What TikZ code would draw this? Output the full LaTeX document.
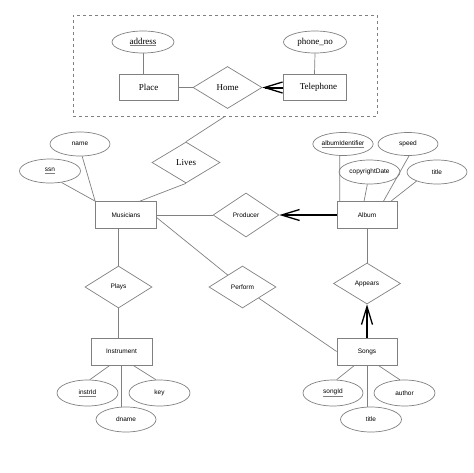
\documentclass[tikz,border=0pt]{standalone}
\usepackage{fontspec}
\setmainfont{Liberation Serif}
\newfontfamily\sansf{Liberation Sans}
\usetikzlibrary{shapes.geometric,arrows.meta}
\definecolor{lc}{RGB}{128,128,128}
\newcommand{\keyul}[1]{{\color{lc}\underline{\color{black}#1}}}
\tikzset{
  base/.style={draw=lc, line width=0.7pt, inner sep=0pt, text=black},
  serif/.style={font=\fontsize{9}{10}\selectfont},
  sans/.style={font=\sansf\fontsize{6.5}{7.5}\selectfont},
  entbox/.style={base, rectangle},
  relbox/.style={base, diamond},
  attr/.style={base, ellipse},
  conn/.style={draw=lc, line width=0.7pt},
  thickarr/.style={draw=black, line width=2pt, -{Straight Barb[length=18pt,width=11pt,line width=1.3pt]}},
  grpbox/.style={draw=lc, line width=0.7pt, dash pattern=on 3pt off 3pt}
}
\begin{document}
\begin{tikzpicture}[x=1pt,y=-1pt]
\useasboundingbox (0,0) rectangle (474,472);
% group box
\node[grpbox, minimum width=304pt, minimum height=101pt, inner sep=0pt] (grp) at (225,65.5) {};
% top part (serif)
\node[attr, serif, minimum width=62pt, minimum height=22pt] (addr) at (143,42) {\keyul{address}};
\node[attr, serif, minimum width=63pt, minimum height=22pt] (ph) at (315,42) {phone\_no};
\node[entbox, serif, minimum width=59pt, minimum height=26pt] (place) at (148.5,87.5) {Place\hspace{12pt}};
\node[relbox, serif, minimum width=69pt, minimum height=42pt] (home) at (227.5,87.5) {Home};
\node[entbox, serif, minimum width=63pt, minimum height=26pt] (tel) at (314.5,87.5) {\hspace{8pt}Telephone};
\node[relbox, serif, minimum width=68pt, minimum height=41pt] (lives) at (186,162.5) {Lives};
% Musicians
\node[entbox, sans, minimum width=61pt, minimum height=27pt] (mus) at (126,215) {Musicians\hspace{14pt}};
\node[attr, sans, minimum width=60pt, minimum height=24pt] (nm) at (80,144) {name};
\node[attr, sans, minimum width=61pt, minimum height=24pt] (ssn) at (50,171) {\keyul{ssn}\hspace{8pt}};
% Album
\node[relbox, sans, minimum width=66pt, minimum height=44pt] (prod) at (246,215) {Producer};
\node[entbox, sans, minimum width=60pt, minimum height=27pt] (alb) at (367,215) {Album\hspace{22pt}};
\node[attr, sans, minimum width=60pt, minimum height=23pt] (aid) at (343,144) {\keyul{albumIdentifier}};
\node[attr, sans, minimum width=60pt, minimum height=23pt] (sp) at (408,144) {speed};
\node[attr, sans, minimum width=61pt, minimum height=24pt] (cd) at (369.5,172) {copyrightDate};
\node[attr, sans, minimum width=60pt, minimum height=24pt] (ti) at (437,172) {title};
% middle
\node[relbox, sans, minimum width=67pt, minimum height=42pt] (plays) at (118.5,287) {Plays};
\node[relbox, sans, minimum width=67pt, minimum height=42pt] (perf) at (242.5,287) {Perform};
\node[relbox, sans, minimum width=67pt, minimum height=41pt] (app) at (367,283.5) {Appears};
% Instrument
\node[entbox, sans, minimum width=61pt, minimum height=27pt] (inst) at (121.5,351.5) {Instrument};
\node[attr, sans, minimum width=61pt, minimum height=26pt] (iid) at (87.5,393) {\keyul{instrId}};
\node[attr, sans, minimum width=61pt, minimum height=26pt] (key) at (159.5,393) {key};
\node[attr, sans, minimum width=60pt, minimum height=25pt] (dn) at (126,419.5) {dname};
% Songs
\node[entbox, sans, minimum width=60pt, minimum height=27pt] (songs) at (367,351.5) {Songs\hspace{12pt}};
\node[attr, sans, minimum width=60pt, minimum height=26pt] (sid) at (333,393) {\keyul{songId}};
\node[attr, sans, minimum width=61pt, minimum height=26pt] (au) at (404.5,393) {author};
\node[attr, sans, minimum width=61pt, minimum height=25pt] (ti2) at (371,419.5) {title};
% connectors
\draw[conn] (addr.south) -- (addr.south |- place.north);
\draw[conn] (ph.south) -- (tel.north);
\draw[conn] (place.east) -- (home.west);
\draw[thickarr] (tel.west) -- (home.east);
\draw[conn] (grp.south) -- (lives.north);
\draw[conn] (lives.south) -- (mus.45);
\draw[conn] (nm.280) -- (mus.north west);
\draw[conn] (ssn.315) -- (mus.north west);
\draw[conn] (mus.east) -- (prod.west);
\draw[thickarr] (alb.west) -- (prod.east);
\draw[conn] (aid.255) -- (alb.153);
\draw[conn] (cd.260) -- (alb.102);
\draw[conn] (sp.275) -- (alb.40);
\draw[conn] (ti.204) -- (alb.30);
\draw[conn] (alb.south) -- (app.north);
\draw[thickarr] (songs.north) -- (app.south);
\draw[conn] (mus.-5) -- (perf);
\draw[conn] (perf) -- (songs.west);
\draw[conn] (plays.north) -- (plays.north |- mus.south);
\draw[conn] (plays.south) -- (plays.south |- inst.north);
\draw[conn] (iid.80) -- (inst.230);
\draw[conn] (inst.south) -- (inst.south |- dn.north);
\draw[conn] (key.105) -- (inst.310);
\draw[conn] (sid.75) -- (songs.228);
\draw[conn] (songs.south) -- (songs.south |- ti2.north);
\draw[conn] (au.109) -- (songs.309);
\end{tikzpicture}
\end{document}
